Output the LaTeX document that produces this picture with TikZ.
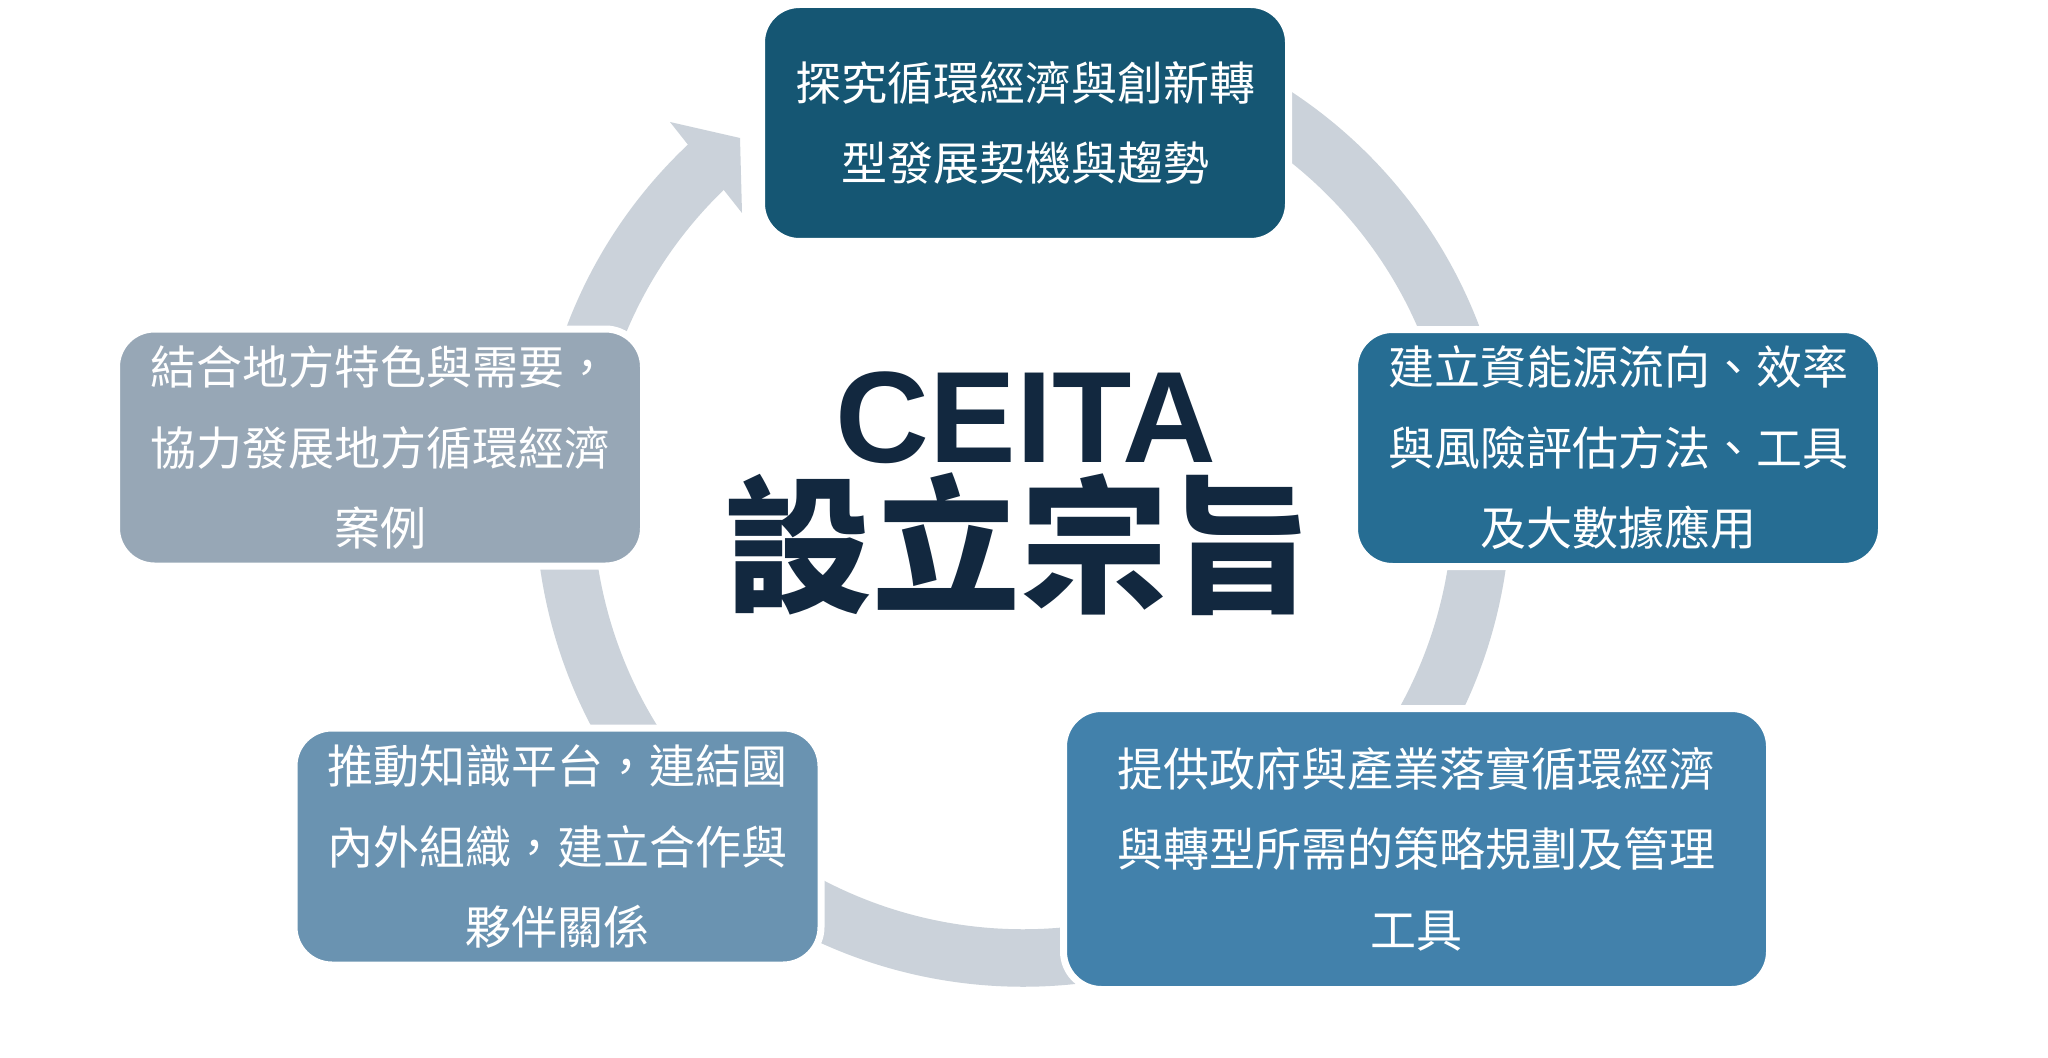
\documentclass[tikz,border=0pt]{standalone}
\usepackage{fontspec}
\setmainfont{Liberation Sans}
\newfontfamily\cjk{Noto Sans CJK TC}
\usetikzlibrary{positioning}
\definecolor{ringgray}{HTML}{CBD2DA}
\definecolor{navy}{HTML}{12283F}
\definecolor{g1c}{HTML}{155673}
\definecolor{g2c}{HTML}{266D93}
\definecolor{g3c}{HTML}{4281AB}
\definecolor{g4c}{HTML}{6A93B1}
\definecolor{g5c}{HTML}{97A7B6}

\begin{document}
\begin{tikzpicture}[x=0.5pt, y=0.5pt,
	box/.style={draw=white, line width=3.5pt, rounded corners=19pt, inner sep=0pt, text=white, align=center,
		font=\cjk\fontsize{23}{40.25}\selectfont, minimum width=263.5pt, minimum height=118.5pt}]
		\path[use as bounding box, fill=white] (0,0) rectangle (2048,1057);

		\coordinate (o) at (1023,558);
		\draw[ringgray, line width=28.75pt] (o) ++(132:459) arc[start angle=132, end angle=430, radius=459];
		\fill[ringgray] (670,935) -- (740,919) -- (742,844) -- cycle;

		\node[box, fill=g1c] (g1) at (1025,934) {探究循環經濟與創新轉\\型發展契機與趨勢};
		\node[box, fill=g2c] (g2) at (1618,609) {建立資能源流向、效率\\與風險評估方法、工具\\及大數據應用};
		\node[box, fill=g3c, minimum width=353pt, minimum height=140.5pt] (g3) at (1416.5,208) {提供政府與產業落實循環經濟\\與轉型所需的策略規劃及管理\\工具};
		\node[box, fill=g4c] (g4) at (557.5,210.5) {推動知識平台，連結國\\內外組織，建立合作與\\夥伴關係};
		\node[box, fill=g5c] (g5) at (380,609.5) {結合地方特色與需要，\\協力發展地方循環經濟\\案例};

		\node[anchor=base, inner sep=0pt, text depth=0pt, text=navy, font=\bfseries\fontsize{65}{65}\selectfont] (ceita) at (1026,595) {CEITA};
		\node[anchor=base, inner sep=0pt, text height=0.84em, text=navy, font=\cjk\bfseries\fontsize{74}{74}\selectfont] (aim) at (1020,456) {設立宗旨};
	\end{tikzpicture}
\end{document}
